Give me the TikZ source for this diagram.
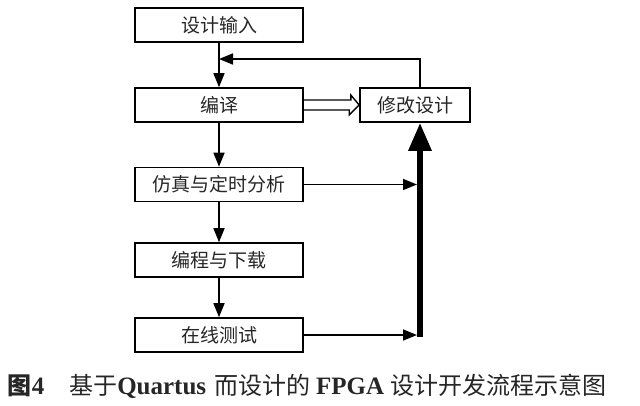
\documentclass[tikz,border=0pt]{standalone}
\usepackage{fontspec}
\setmainfont{Liberation Serif}
\newfontfamily\cjk{Noto Sans CJK SC}
\usetikzlibrary{arrows.meta}

\tikzset{
  box/.style={draw, line width=1.6pt, minimum width=168pt, minimum height=34pt,
    inner sep=0pt, text=black!85, font=\cjk\fontsize{19}{19}\selectfont},
  arr/.style={line width=1.6pt, -{Triangle[length=14pt,width=11pt]}},
  thickarr/.style={line width=6pt, -{Triangle[length=28pt,width=22pt]}},
}

\begin{document}
\begin{tikzpicture}[x=1pt,y=1pt]
\useasboundingbox (0,0) rectangle (640,405);
% left column:
\node[box] (shuru) at (219,380) {设计输入};
\node[box] (bianyi) at (219,300) {编译};
\node[box] (fangzhen) at (219,220.5) {仿真与定时分析};
\node[box] (biancheng) at (219,145) {编程与下载};
\node[box] (zaixian) at (219,70) {在线测试};
% right box:
\node[box, minimum width=110pt] (xiugai) at (415,300) {修改设计};
\coordinate (join) at (219,346);
\coordinate (bottom) at (420,68);
% main flow:
\draw[arr] (shuru) -- (bianyi);
\draw[arr] (bianyi) -- (fangzhen);
\draw[arr] (fangzhen) -- (biancheng);
\draw[arr] (biancheng) -- (zaixian);
% feedback loop:
\draw[arr] (xiugai.north -| bottom) |- (join);
\draw[line width=1.4pt, line join=miter] ([yshift=5pt]bianyi.east) -- ++(47,0) -- ++(0,5)
  -- (xiugai.west) -- ++(-10,-10) -- ++(0,5) -- ([yshift=-5pt]bianyi.east);
\draw[thickarr] (bottom) -- (bottom |- xiugai.south);
\draw[arr, shorten >=3pt] (fangzhen.east) -- (fangzhen.east -| bottom);
\draw[arr, shorten >=3pt] (zaixian.east) -- (zaixian.east -| bottom);
% caption:
\node[text=black!85, inner sep=0pt] (caption) at (307,19) {\fontsize{24}{24}\selectfont
  {\cjk\bfseries 图}{\fontsize{25}{25}\selectfont\textbf{4}}\hspace{25pt}{\cjk 基于}{\fontsize{25}{25}\selectfont\textbf{Quartus}}\hspace{8pt}{\cjk 而设计的}\hspace{6pt}{\fontsize{25}{25}\selectfont\textbf{FPGA}}\hspace{6pt}{\cjk 设计开发流程示意图}};
\end{tikzpicture}
\end{document}
